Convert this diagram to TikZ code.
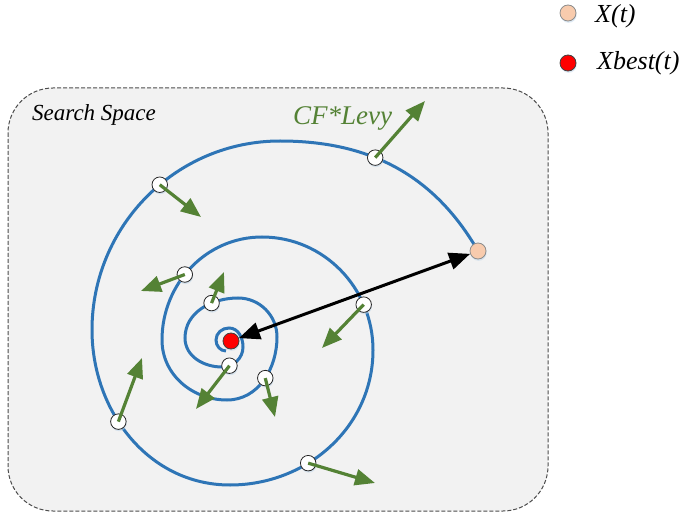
\documentclass[tikz,border=0pt]{standalone}
\usepackage{fontspec}
\setmainfont{Liberation Serif}
\usetikzlibrary{arrows.meta,shadows}
\definecolor{spblue}{RGB}{46,117,182}
\definecolor{lgreen}{RGB}{84,130,53}
\definecolor{peach}{RGB}{248,203,173}
\definecolor{boxfill}{RGB}{242,242,242}
\begin{document}
\begin{tikzpicture}[x=1pt,y=1pt,
  glow/.style={drop shadow={shadow xshift=0.6pt,shadow yshift=-1.8pt,fill=spblue!30,opacity=0.55}},
  agent/.style={circle,draw=black!85,fill=white,line width=0.8pt,minimum size=15.5pt,inner sep=0pt,glow},
  bestdot/.style={circle,draw=black!75,fill=red,line width=0.8pt,minimum size=16pt,inner sep=0pt,glow},
  curdot/.style={circle,draw=black!45,fill=peach,line width=0.8pt,minimum size=16pt,inner sep=0pt,glow},
  levy/.style={draw=lgreen,line width=3.2pt,-{Triangle[length=20pt,width=16pt]}},
  bigarrow/.style={draw=black,line width=3pt,{Triangle[length=21pt,width=17pt]}-{Triangle[length=21pt,width=17pt]}},
  lbl/.style={inner sep=0pt,font=\itshape\fontsize{26}{30}\selectfont}]
\useasboundingbox (0,0) rectangle (685,-521);
% search space
\draw[draw=black!70,fill=boxfill,line width=1pt,dash pattern=on 4pt off 2pt,rounded corners=45pt]
  (8,-88) rectangle (548,-511);
\node[anchor=base west,inner sep=0pt,font=\itshape\fontsize{23}{27}\selectfont] (ss) at (32,-121) {Search Space};
\node[anchor=base west,inner sep=0pt,text=lgreen,font=\itshape\fontsize{27}{31}\selectfont] (cf) at (293,-125) {CF*Levy};
% spiral
\draw[spblue,line width=3pt]
 (478,-251) coordinate (s0)
 to[out=120,in=0] coordinate[pos=0.6] (d1) (280,-141)
 to[out=180,in=90] coordinate[pos=0.44] (d2) (92,-330)
 to[out=270,in=180] coordinate[pos=0.41] (d3) (230,-485)
 to[out=0,in=270] coordinate[pos=0.37] (d4) (373,-350)
 to[out=90,in=0] coordinate[pos=0.26] (d5) (262,-237)
 to[out=180,in=90] coordinate[pos=0.56] (d6) (162,-340)
 to[out=270,in=180] (227,-400)
 to[out=0,in=270] coordinate[pos=0.53] (d7) (277,-337)
 to[out=90,in=0] (238,-298)
 to[out=180,in=90] coordinate[pos=0.35] (d8) (185,-338)
 to[out=270,in=180] (222,-367)
 to[out=0,in=270] coordinate[pos=0.23] (d9) (243,-347)
 to[out=90,in=0] (229,-328)
 to[out=180,in=90] (216,-340)
 to[out=270,in=180] (226,-351);
% agents
\foreach \d in {d1,d2,d3,d4,d5,d6,d7,d8,d9}
  \node[agent] (a\d) at (\d) {};
% levy flight tips
\coordinate (t1) at (425,-101);
\coordinate (t2) at (201,-217);
\coordinate (t3) at (141,-291);
\coordinate (t4) at (224,-272);
\coordinate (t5) at (322,-348);
\coordinate (t6) at (142,-358);
\coordinate (t7) at (196,-409);
\coordinate (t8) at (275,-417);
\coordinate (t9) at (375,-483);
\draw[levy] (ad1.center) -- (t1);
\draw[levy] (ad2.center) -- (t2);
\draw[levy] (ad6.center) -- (t3);
\draw[levy] (ad8.center) -- (t4);
\draw[levy] (ad5.center) -- (t5);
\draw[levy] (ad3.center) -- (t6);
\draw[levy] (ad9.center) -- (t7);
\draw[levy] (ad7.center) -- (t8);
\draw[levy] (ad4.center) -- (t9);
% best and current
\node[bestdot] (xb) at (231,-341) {};
\node[curdot] (xt) at (s0) {};
\draw[bigarrow] (xb) -- (xt);
% legend
\node[curdot] (lg1) at (568,-13) {};
\node[lbl,anchor=west] (lt1) at (595,-16) {X(t)};
\node[bestdot] (lg2) at (568,-63) {};
\node[lbl,anchor=west] (lt2) at (597,-63) {Xbest(t)};
\end{tikzpicture}
\end{document}
